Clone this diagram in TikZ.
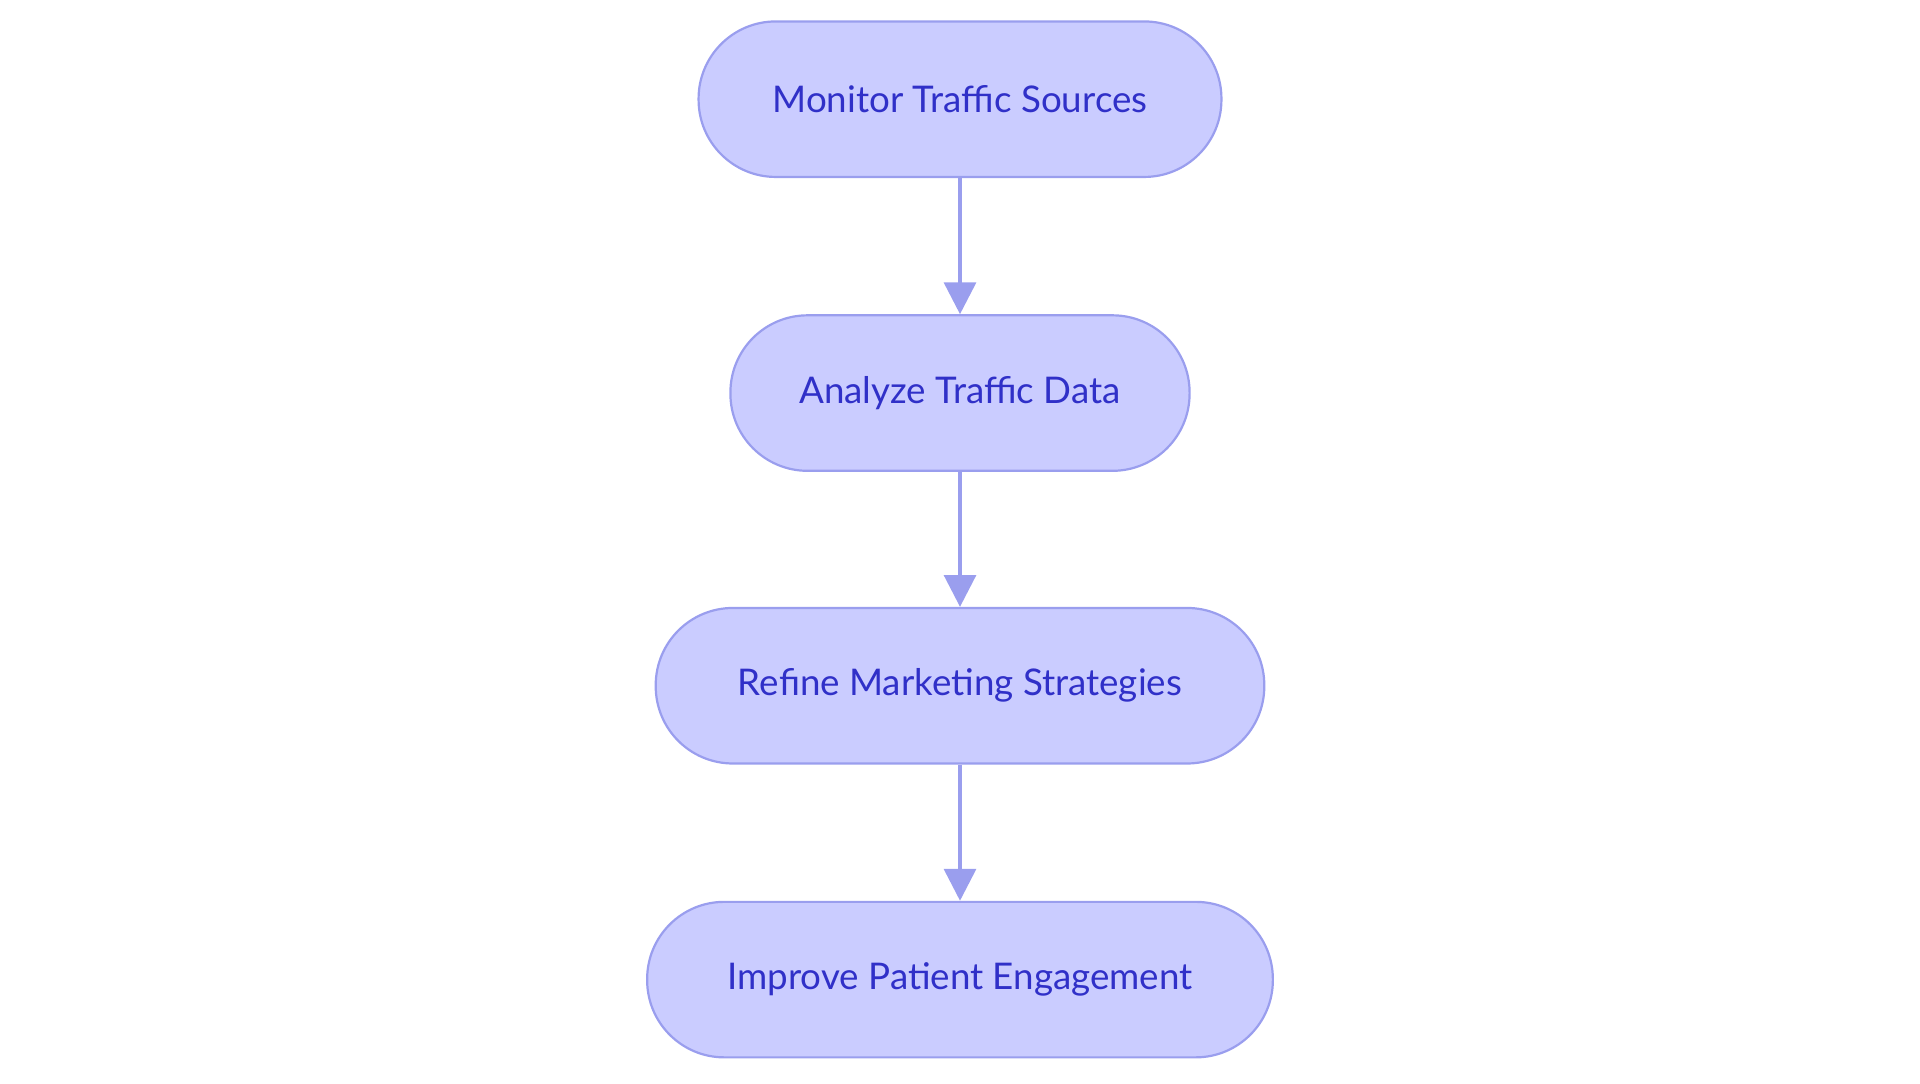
\documentclass[tikz,border=0pt]{standalone}
\usepackage{fontspec}
\setmainfont{Lato}
\usetikzlibrary{arrows.meta}
\definecolor{nfill}{HTML}{CACCFF}
\definecolor{nline}{HTML}{9A9EEE}
\definecolor{ntext}{HTML}{3030C8}
\begin{document}
\begin{tikzpicture}[x=1pt,y=-1pt,
  pill/.style={draw=nline,fill=nfill,line width=1.8pt,rounded corners=63pt,minimum height=127pt,text=ntext,font=\fontsize{30}{36}\selectfont,inner sep=0pt},
  conn/.style={draw=nline,line width=3pt,-{Triangle[length=26pt,width=26pt]}}]
\useasboundingbox (0,0) rectangle (1568,884.5);
\node[pill,minimum width=427pt] (a) at (784,81) {Monitor Traffic Sources};
\node[pill,minimum width=375pt] (b) at (784,321) {Analyze Traffic Data};
\node[pill,minimum width=497pt] (c) at (784,560) {Refine Marketing Strategies};
\node[pill,minimum width=511pt] (d) at (784,800) {Improve Patient Engagement};
\draw[conn] (a) -- (b);
\draw[conn] (b) -- (c);
\draw[conn] (c) -- (d);
\end{tikzpicture}
\end{document}
